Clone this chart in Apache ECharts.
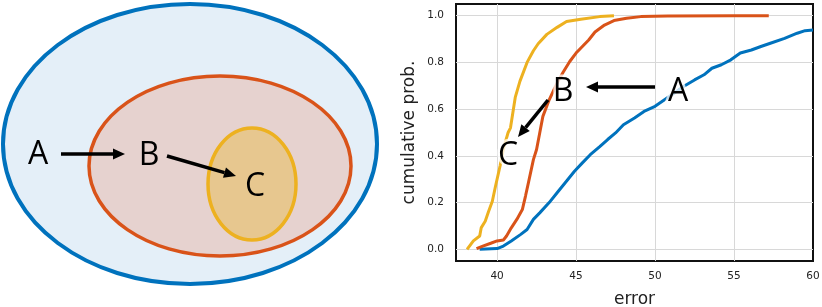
<!DOCTYPE html>
<html lang="en">
<head>
    <title>A B C cumulative error</title>
    <meta charset="utf-8" />
    <script src="https://cdn.jsdelivr.net/npm/echarts@6/dist/echarts.min.js"></script>
    <style>
        html, body {
            margin: 0;
            padding: 0;
            background-color: #fff;
        }

        #main {
            width: 822px;
            height: 307px;
        }
    </style>
</head>
<body>
<div id="main"></div>
<script type="text/javascript">
    let seriesNames = ['A', 'B', 'C']
    let curveA = [
        [38.9, 0], [40.0, 0.003], [40.4, 0.014], [40.9, 0.036], [41.5, 0.064], [41.9, 0.085],
        [42.3, 0.128], [42.7, 0.156], [43.3, 0.2], [43.8, 0.242], [44.3, 0.284], [44.9, 0.334],
        [45.4, 0.37], [45.9, 0.405], [46.5, 0.44], [47.0, 0.47], [47.5, 0.498], [48.0, 0.533],
        [48.7, 0.562], [49.3, 0.59], [50.0, 0.612], [50.6, 0.64], [51.2, 0.668], [51.8, 0.697],
        [52.5, 0.725], [53.1, 0.747], [53.6, 0.775], [54.2, 0.79], [54.8, 0.811], [55.4, 0.84],
        [56.1, 0.853], [56.7, 0.868], [57.3, 0.882], [58.2, 0.903], [59.0, 0.925], [59.5, 0.936],
        [60.0, 0.939]
    ]
    let curveB = [
        [38.7, 0.003], [39.1, 0.014], [39.6, 0.026], [40.0, 0.036], [40.4, 0.04], [40.6, 0.057],
        [40.9, 0.092], [41.25, 0.128], [41.6, 0.17], [41.8, 0.228], [42.0, 0.29], [42.3, 0.384],
        [42.5, 0.427], [42.7, 0.498], [42.9, 0.569], [43.3, 0.64], [43.6, 0.683], [43.9, 0.725],
        [44.2, 0.76], [44.6, 0.804], [45.0, 0.84], [45.4, 0.868], [45.8, 0.896], [46.2, 0.93],
        [46.8, 0.96], [47.4, 0.979], [48.2, 0.989], [49.1, 0.996], [50.8, 0.999], [55.0, 1.0],
        [57.2, 1.0]
    ]
    let curveC = [
        [38.1, 0], [38.5, 0.036], [38.9, 0.057], [39.0, 0.093], [39.25, 0.12], [39.45, 0.16],
        [39.7, 0.206], [39.9, 0.27], [40.1, 0.33], [40.2, 0.36], [40.4, 0.43], [40.7, 0.5],
        [40.85, 0.52], [41.15, 0.65], [41.45, 0.72], [41.9, 0.8], [42.3, 0.85], [42.6, 0.88],
        [43.15, 0.92], [43.8, 0.95], [44.4, 0.975], [45.3, 0.985], [46.5, 0.996], [47.4, 1.0]
    ]
    let xTicks = [40, 45, 50, 55, 60]
    let yTicks = [0, 0.2, 0.4, 0.6, 0.8, 1.0]

    let colorA = '#0072BD'
    let colorB = '#D95319'
    let colorC = '#EDB120'
    let letterFont = '"Open Sans", Lato, sans-serif'
    let halo = 'rgba(255,255,255,0.75)'

    function arrow(x1, y1, x2, y2, w, head) {
        let ang = Math.atan2(y2 - y1, x2 - x1)
        let bx = x2 - head * Math.cos(ang)
        let by = y2 - head * Math.sin(ang)
        let px = Math.sin(ang) * head * 0.45
        let py = -Math.cos(ang) * head * 0.45
        return [
            {type: 'line', z: 20, shape: {x1: x1, y1: y1, x2: bx, y2: by},
                style: {stroke: '#000', lineWidth: w}},
            {type: 'polygon', z: 20, shape: {points: [[x2, y2], [bx + px, by + py], [bx - px, by - py]]},
                style: {fill: '#000'}}
        ]
    }

    function letter(t, x, y, withHalo) {
        return {
            type: 'text', z: 21, x: x, y: y,
            style: {
                text: t, fill: '#000', font: '32px ' + letterFont, align: 'center', verticalAlign: 'middle',
                stroke: withHalo ? halo : null, lineWidth: withHalo ? 5 : 0
            }
        }
    }

    let graphics = [
        // nested sets on the left
        {type: 'ellipse', z: 10, shape: {cx: 190, cy: 144, rx: 187, ry: 140},
            style: {fill: '#e4eff8', stroke: colorA, lineWidth: 4}},
        {type: 'ellipse', z: 11, shape: {cx: 220, cy: 166, rx: 131, ry: 90},
            style: {fill: '#e6d2cf', stroke: colorB, lineWidth: 3.5}},
        {type: 'ellipse', z: 12, shape: {cx: 252, cy: 184, rx: 44, ry: 56},
            style: {fill: '#e7c78f', stroke: colorC, lineWidth: 3.5}},
        letter('A', 38, 155, false),
        letter('B', 149, 156, false),
        letter('C', 255, 187, false),
        letter('B', 563, 92, true),
        letter('A', 678, 92, true),
        letter('C', 508, 156, true)
    ]
    graphics = graphics
        .concat(arrow(61, 154, 125, 154, 3.5, 12))
        .concat(arrow(167, 156, 236, 176, 3.5, 12))
        .concat(arrow(655, 87, 586, 87, 3.5, 12))
        .concat(arrow(548, 100, 518, 137, 3.5, 12))

    let myChart = echarts.init(document.getElementById('main'))

    let option = {
        animation: false,
        backgroundColor: '#fff',
        grid: {
            left: 456, right: 9, top: 4, bottom: 46,
            containLabel: false, outerBoundsMode: 'none',
            show: true, borderColor: '#111', borderWidth: 2, backgroundColor: 'transparent'
        },
        xAxis: {
            type: 'value', min: 37.4, max: 60, splitNumber: 5,
            name: 'error', nameLocation: 'middle', nameGap: 30,
            nameTextStyle: {fontFamily: 'DejaVu Sans', fontSize: 17, color: '#222'},
            axisLine: {show: false}, axisTick: {show: false},
            axisLabel: {
                fontFamily: 'DejaVu Sans', fontSize: 10.5, color: '#222', margin: 10,
                formatter: function (v) { return xTicks.indexOf(v) >= 0 ? String(v) : '' }
            },
            splitLine: {show: true, showMinLine: false, showMaxLine: false, lineStyle: {color: '#d8d8d8', width: 1}}
        },
        yAxis: {
            type: 'value', min: -0.05, max: 1.05, splitNumber: 5,
            name: 'cumulative prob.', nameLocation: 'middle', nameGap: 38, nameRotate: 90,
            nameTextStyle: {fontFamily: 'DejaVu Sans', fontSize: 17, color: '#222'},
            axisLine: {show: false}, axisTick: {show: false},
            axisLabel: {
                fontFamily: 'DejaVu Sans', fontSize: 10.5, color: '#222', margin: 12,
                formatter: function (v) {
                    for (let t of yTicks) {
                        if (Math.abs(v - t) < 1e-6) return t.toFixed(1)
                    }
                    return ''
                }
            },
            splitLine: {show: true, showMinLine: false, showMaxLine: false, lineStyle: {color: '#d8d8d8', width: 1}}
        },
        series: [
            {name: seriesNames[0], type: 'line', data: curveA, showSymbol: false, z: 3,
                lineStyle: {color: colorA, width: 3}},
            {name: seriesNames[1], type: 'line', data: curveB, showSymbol: false, z: 4,
                lineStyle: {color: colorB, width: 3}},
            {name: seriesNames[2], type: 'line', data: curveC, showSymbol: false, z: 5,
                lineStyle: {color: colorC, width: 3}}
        ],
        graphic: graphics
    }

    myChart.setOption(option)
</script>
</body>
</html>
